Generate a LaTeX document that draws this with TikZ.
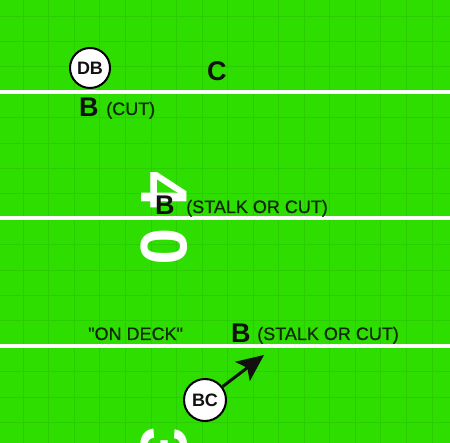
\documentclass[tikz,border=0pt]{standalone}
\usepackage{fontspec}
\setmainfont{Liberation Sans}[Ligatures=TeXOff]
\newfontfamily\notefont{Liberation Sans}[Ligatures=TeXOff,FakeBold=0.6]
\usetikzlibrary{arrows.meta}
\definecolor{field}{RGB}{45,222,0}
\definecolor{gridc}{RGB}{40,206,0}
\definecolor{ink}{RGB}{17,17,17}
\definecolor{noteink}{RGB}{14,40,8}
\tikzset{
  player/.style={circle,draw=black,line width=2pt,fill=white,inner sep=0pt,minimum size=#1,text=ink,font=\fontsize{18}{18}\selectfont\bfseries},
  bigletter/.style={anchor=base west,inner sep=0pt,text=ink,font=\fontsize{27}{27}\selectfont\bfseries},
  note/.style={anchor=base west,inner sep=0pt,text=noteink,font=\notefont\fontsize{18}{18}\selectfont},
  yardnum/.style={rotate=-90,inner sep=0pt,text=white,font=\fontsize{66}{66}\selectfont\bfseries},
  yardline/.style={white,line width=4pt},
  route/.style={ink,line width=3pt,-{Stealth[length=27pt,width=24pt,inset=6pt]}}
}
\begin{document}
\begin{tikzpicture}[x=1pt,y=-1pt]
\useasboundingbox (0,0) rectangle (450,443);
\begin{scope}
\clip (0,0) rectangle (450,443);
\fill[field] (0,0) rectangle (450,443);
\foreach \i in {0,...,17} {
  \draw[gridc,line width=0.5pt] ({-2.55+25.55*\i},0) -- ({-2.55+25.55*\i},443);
}
\foreach \j in {-3,...,14} {
  \draw[gridc,line width=0.5pt] (0,{92+25.4*\j}) -- (450,{92+25.4*\j});
}
\draw[yardline] (0,92) -- (450,92);
\draw[yardline] (0,218) -- (450,218);
\draw[yardline] (0,346) -- (450,346);
\node[yardnum] (d4) at (164,190) {4};
\node[yardnum] (d0) at (164,247) {0};
\node[yardnum] (d3) at (164,446) {3};
\end{scope}
\node[player=40pt] (db) at (90,68) {DB};
\node[bigletter] (c) at (207,81) {C};
\node[bigletter] (b1) at (79,117) {B};
\node[note] (cut) at (106,115) {(CUT)};
\node[bigletter] (b2) at (155,215) {B};
\node[note] (sc1) at (186,213) {(STALK OR CUT)};
\node[note] (deck) at (88,340) {"ON DECK"};
\node[bigletter] (b3) at (231,343) {B};
\node[note] (sc2) at (257,340) {(STALK OR CUT)};
\node[player=42pt] (bc) at (205,400) {BC};
\coordinate (tip) at (264,355);
\draw[route] (bc) -- (tip);
\end{tikzpicture}
\end{document}
